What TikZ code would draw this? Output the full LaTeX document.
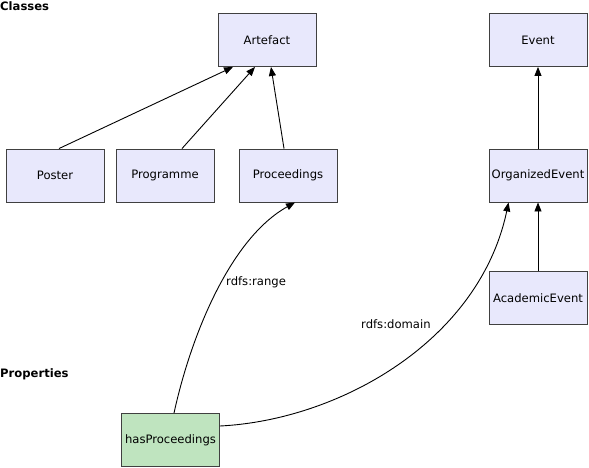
\documentclass[tikz,border=0pt]{standalone}
\usepackage{fontspec}
\setmainfont{DejaVu Sans}
\usetikzlibrary{arrows.meta}
\definecolor{classfill}{RGB}{232,232,252}
\definecolor{propfill}{RGB}{191,228,191}
\begin{document}
\begin{tikzpicture}[x=1pt,y=-1pt,
  font=\fontsize{11.6}{14}\selectfont,
  box/.style={draw=black!75,line width=0.9pt,minimum width=98pt,minimum height=53pt,inner sep=0pt},
  classbox/.style={box,fill=classfill},
  propbox/.style={box,fill=propfill},
  heading/.style={anchor=west,inner sep=0pt,font=\fontsize{11.6}{14}\selectfont\bfseries},
  lbl/.style={anchor=west,inner sep=0pt},
  link/.style={-{Triangle[length=9pt,width=7pt]},line width=0.9pt}]
\useasboundingbox (0,0) rectangle (589,467);
\node[heading] (classes) at (0,6) {Classes};
\node[heading] (properties) at (0,374) {Properties};
\node[classbox] (artefact) at (267,40) {Artefact};
\node[classbox] (event) at (538,40) {Event};
\node[classbox] (poster) at (55,175.5) {Poster};
\node[classbox] (programme) at (165,175.5) {Programme};
\node[classbox] (proceedings) at (288,175.5) {Proceedings};
\node[classbox] (organized) at (538,175.5) {OrganizedEvent};
\node[classbox] (academic) at (538,298) {AcademicEvent};
\node[propbox] (hasproc) at (170.5,440) {hasProceedings};
\draw[link] ([xshift=4pt]poster.north) -- ([xshift=-34pt]artefact.south);
\draw[link] ([xshift=17pt]programme.north) -- ([xshift=-12pt]artefact.south);
\draw[link] ([xshift=-4pt]proceedings.north) -- ([xshift=4pt]artefact.south);
\draw[link] (organized) -- (event);
\draw[link] (academic) -- (organized);
\draw[link] ([xshift=3.5pt]hasproc.north) .. controls +(18,-82) and +(-63,35) .. ([xshift=7pt]proceedings.south);
\draw[link] ([yshift=14pt]hasproc.east) .. controls +(120,-6) and +(-29,138) .. ([xshift=20pt]organized.south west);
\node[lbl] (range) at (226,282) {rdfs:range};
\node[lbl] (domain) at (361,324) {rdfs:domain};
\end{tikzpicture}
\end{document}
